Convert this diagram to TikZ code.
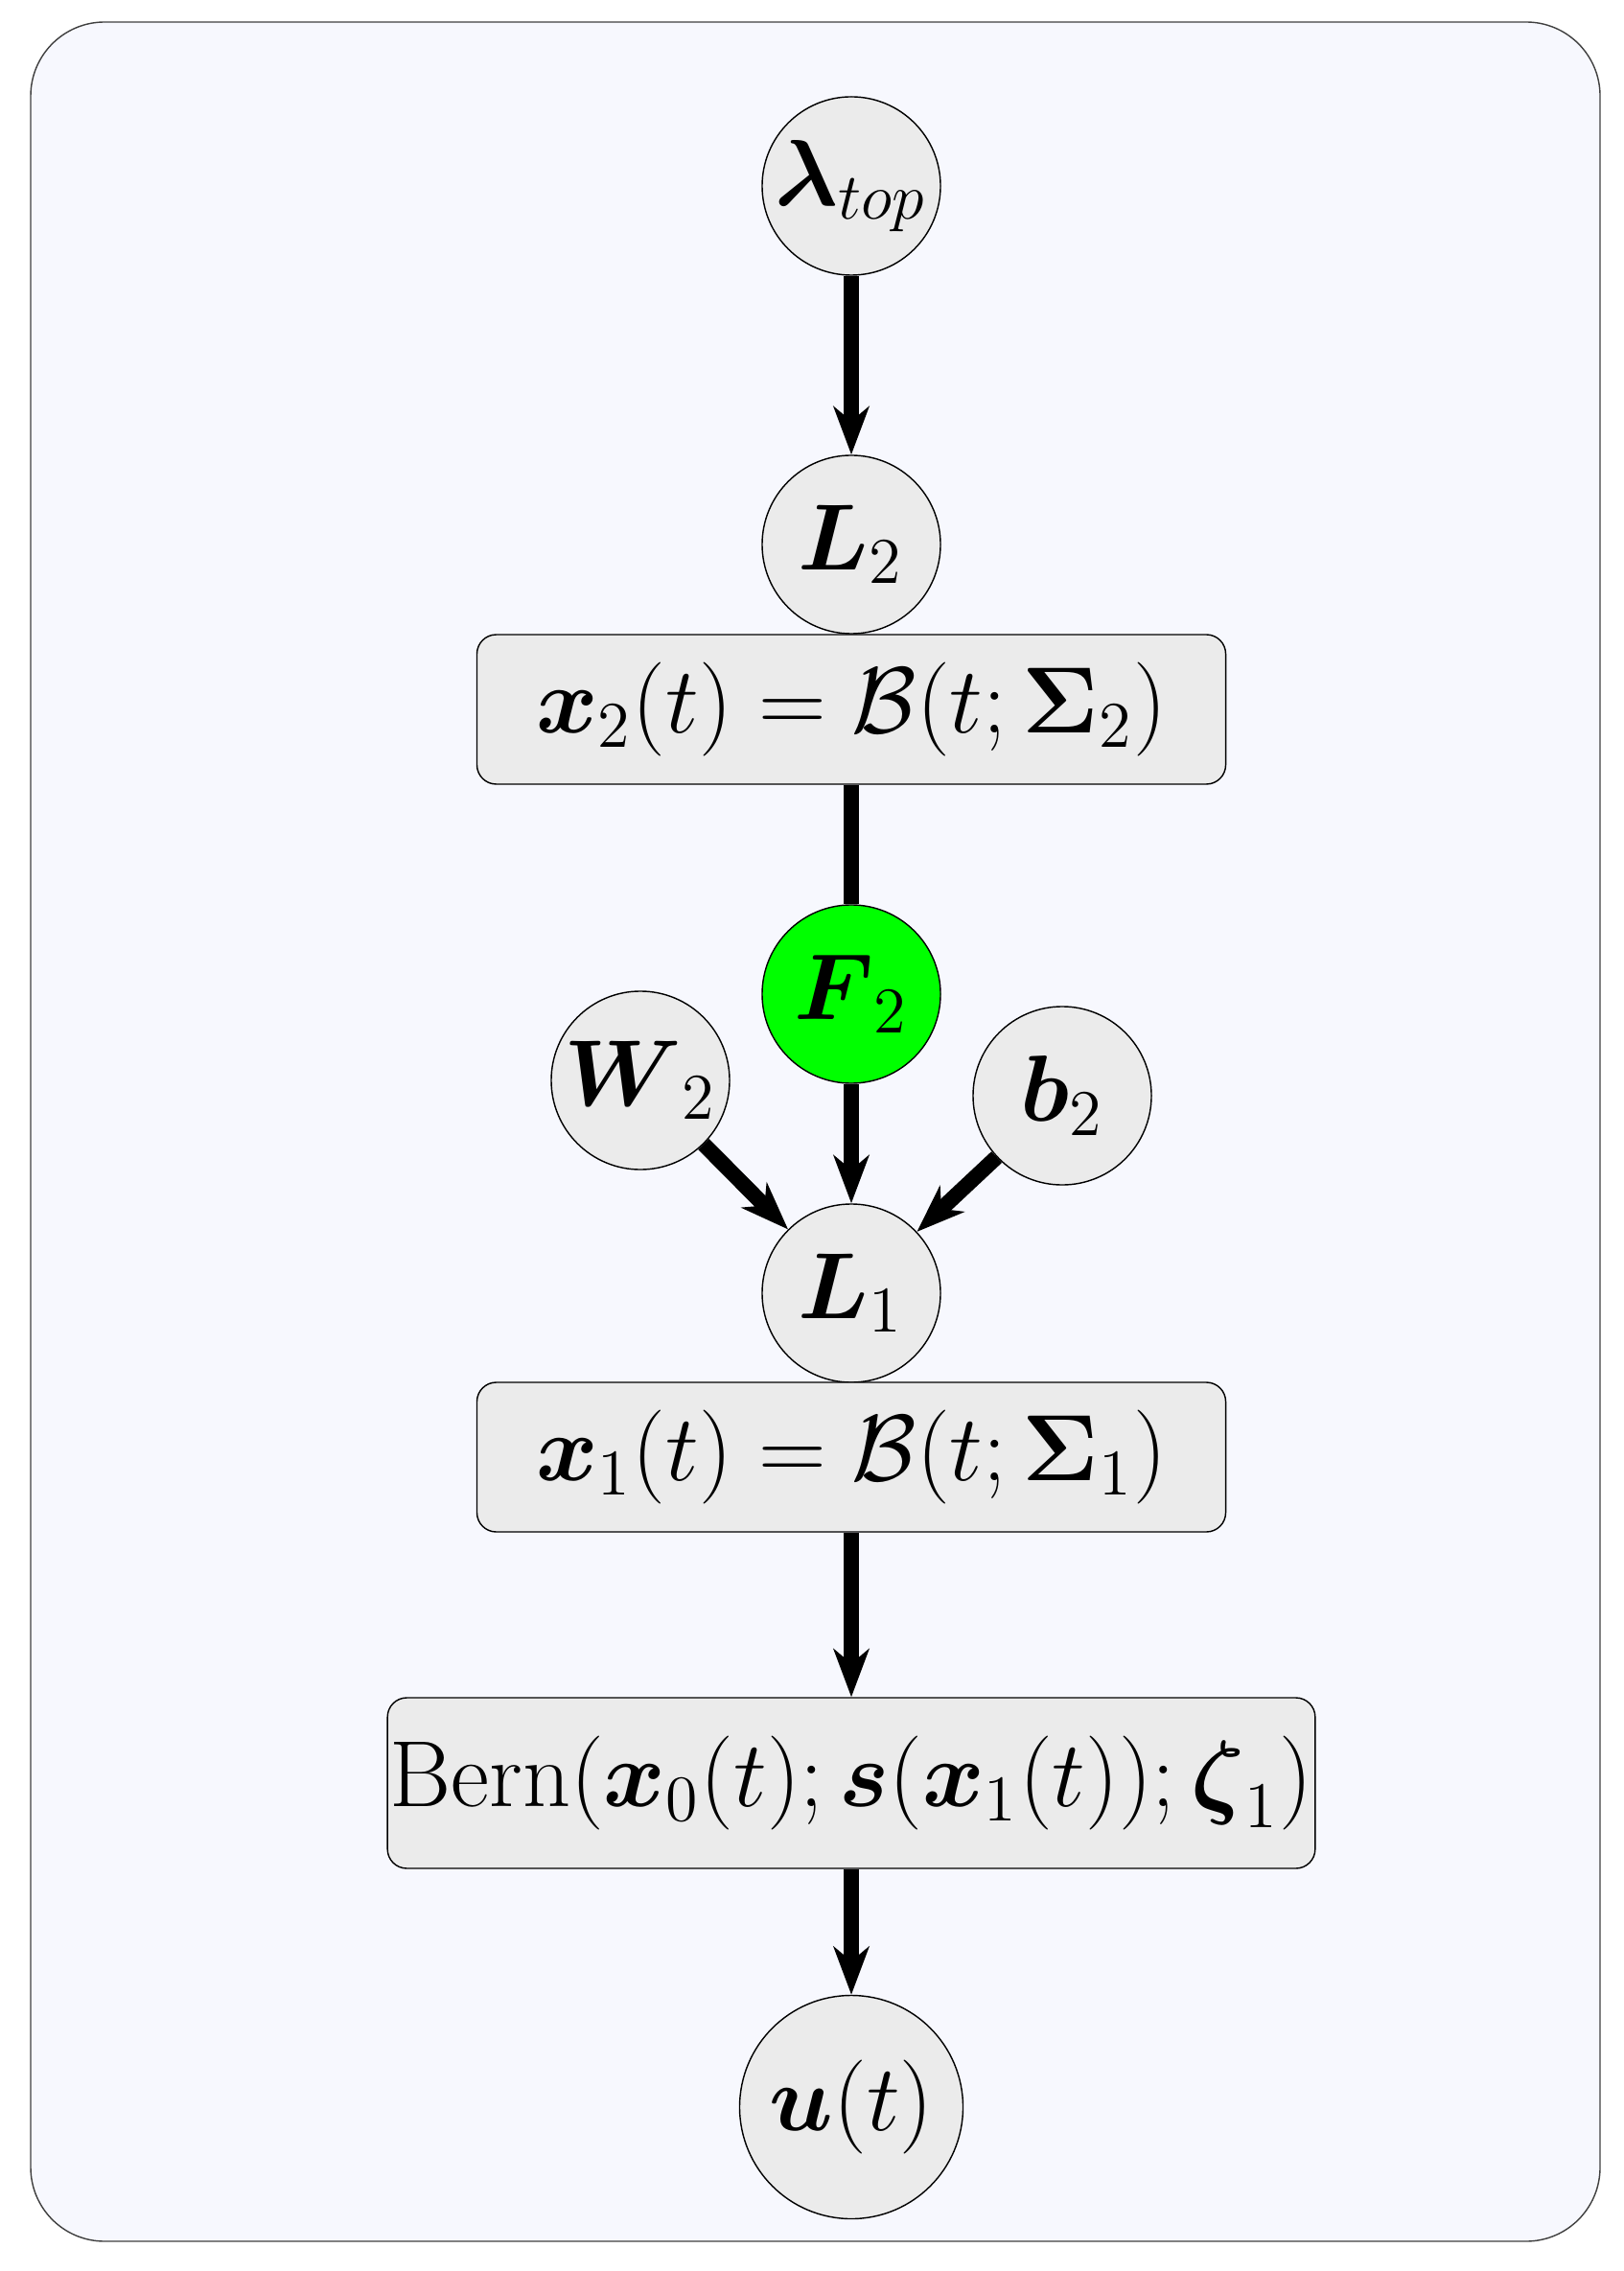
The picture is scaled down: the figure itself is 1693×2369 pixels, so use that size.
\documentclass[tikz,border=0pt]{standalone}
\usepackage{amsmath}
\usetikzlibrary{arrows.meta}
\definecolor{bgcol}{RGB}{247,248,254}
\definecolor{nodecol}{RGB}{235,235,235}
\definecolor{fgreen}{RGB}{0,255,0}
\begin{document}
\begin{tikzpicture}[x=0.1763pt,y=-0.1763pt,
  circ/.style={circle,draw=black,line width=0.25pt,fill=nodecol,minimum size=32.8pt,inner sep=0pt,font=\LARGE},
  ucirc/.style={circ,minimum size=41.08pt},
  eqbox/.style={rectangle,rounded corners=3.55pt,draw=black,line width=0.25pt,fill=nodecol,minimum width=137.7pt,minimum height=27.5pt,inner sep=0pt,font=\LARGE},
  bernbox/.style={eqbox,minimum width=170.6pt,minimum height=31.38pt},
  conn/.style={line width=2.82pt},
  arr/.style={conn,-{Stealth[length=8.82pt,width=6.5pt,inset=2.66pt]}}]
\useasboundingbox (0,0) rectangle (1693,2369);
\draw[fill=bgcol,draw=black!75,line width=0.25pt,rounded corners=13.6pt] (32,23) rectangle (1669,2338);

\node[circ] (lam) at (888,194) {$\boldsymbol{\lambda}_{top}$};
\node[circ] (L2) at (888,568) {$\boldsymbol{L}_2$};
\node[eqbox] (x2) at (888,740) {$\boldsymbol{x}_2(t) = \mathcal{B}(t;\boldsymbol{\Sigma}_2)$};
\node[circ,fill=fgreen] (F2) at (888,1037) {$\boldsymbol{F}_2$};
\node[circ] (W2) at (668,1127) {$\boldsymbol{W}_2$};
\node[circ] (b2) at (1108,1143) {$\boldsymbol{b}_2$};
\node[circ] (L1) at (888,1349) {$\boldsymbol{L}_1$};
\node[eqbox] (x1) at (888,1520) {$\boldsymbol{x}_1(t) = \mathcal{B}(t;\boldsymbol{\Sigma}_1)$};
\node[bernbox] (bern) at (888,1860) {$\mathrm{Bern}(\boldsymbol{x}_0(t);\boldsymbol{s}(\boldsymbol{x}_1(t));\boldsymbol{\zeta}_1)$};
\node[ucirc] (u) at (888,2198) {$\boldsymbol{u}(t)$};

\draw[arr] (lam) -- (L2);
\draw[conn] (x2) -- (F2);
\draw[arr] (F2) -- (L1);
\draw[arr] (W2) -- (L1);
\draw[arr] (b2) -- (L1);
\draw[arr] (x1) -- (bern);
\draw[arr] (bern) -- (u);
\end{tikzpicture}
\end{document}
